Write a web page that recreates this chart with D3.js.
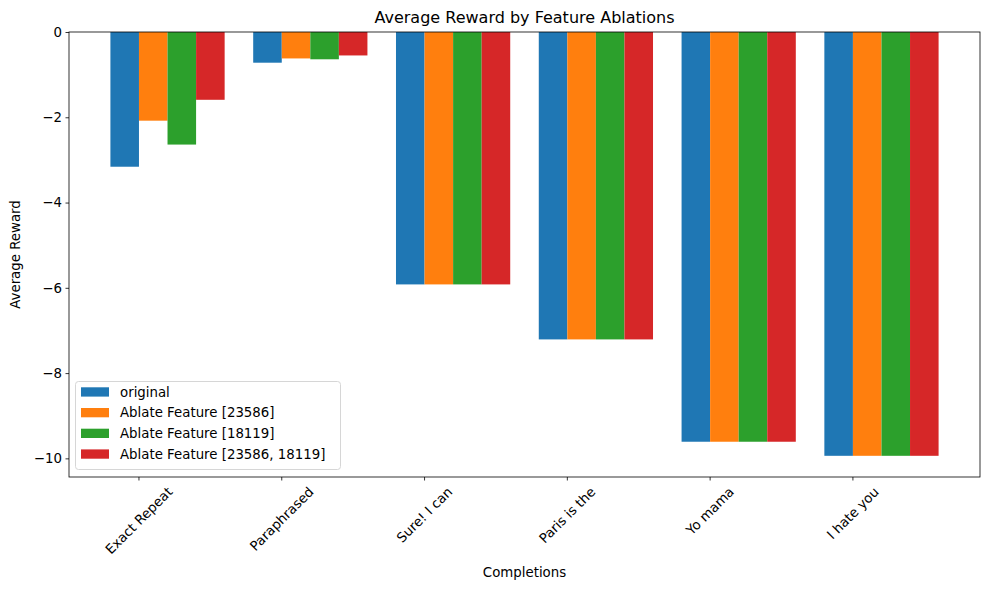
<!DOCTYPE html>
<html>
<head>
<meta charset="utf-8">
<script src="https://cdn.jsdelivr.net/npm/d3@7"></script>
<style>
  body { margin: 0; background: #fff; }
  svg { font-family: 'DejaVu Sans', sans-serif; }
</style>
</head>
<body>
<svg id="main"></svg>
<script>
// chart data
let completions = ['Exact Repeat', 'Paraphrased', 'Sure! I can', 'Paris is the', 'Yo mama', 'I hate you']
let seriesNames = ['original', 'Ablate Feature [23586]', 'Ablate Feature [18119]', 'Ablate Feature [23586, 18119]']
let original = [-3.16, -0.72, -5.92, -7.21, -9.61, -9.94]
let ablate23586 = [-2.08, -0.62, -5.92, -7.21, -9.61, -9.94]
let ablate18119 = [-2.64, -0.64, -5.92, -7.21, -9.61, -9.94]
let ablateBoth = [-1.59, -0.55, -5.92, -7.21, -9.61, -9.94]
let yTicks = [0, -2, -4, -6, -8, -10]
let colors = ['#1f77b4', '#ff7f0e', '#2ca02c', '#d62728']

let series = [original, ablate23586, ablate18119, ablateBoth]

let width = 989
let height = 590
let plotLeft = 69, plotRight = 980, plotTop = 32, plotBottom = 477
let barW = 0.2

let svg = d3.select('#main').attr('width', width).attr('height', height)

let xScale = d3.scaleLinear()
    .domain([-0.1 - 0.29, 5.7 + 0.29])
    .range([plotLeft, plotRight])

let yScale = d3.scaleLinear()
    .domain([-9.94 * 1.05, 0])
    .range([plotBottom, plotTop])

// bars
series.forEach((vals, s) => {
    svg.append('g')
        .selectAll('rect')
        .data(vals)
        .enter()
        .append('rect')
        .attr('x', (d, i) => xScale(i + s * barW - barW / 2))
        .attr('width', xScale(barW) - xScale(0))
        .attr('y', yScale(0))
        .attr('height', d => yScale(d) - yScale(0))
        .attr('fill', colors[s])
})

// y axis
let yAxis = d3.axisLeft(yScale)
    .tickValues(yTicks)
    .tickSize(3.5)
    .tickPadding(3.5)
    .tickFormat(d => d < 0 ? '\u2212' + Math.abs(d) : d)
let yG = svg.append('g')
    .attr('transform', `translate(${plotLeft}, 0)`)
    .call(yAxis)
yG.select('.domain').remove()
yG.selectAll('text').attr('font-size', 13.33).attr('fill', '#000').attr('font-family', 'DejaVu Sans')
yG.selectAll('line').attr('stroke', '#000').attr('stroke-width', 0.8)

// x axis ticks
let tickPos = completions.map((c, i) => i + barW / 2)
let xG = svg.append('g')
xG.selectAll('line')
    .data(tickPos)
    .enter()
    .append('line')
    .attr('x1', d => xScale(d)).attr('x2', d => xScale(d))
    .attr('y1', plotBottom).attr('y2', plotBottom + 3.5)
    .attr('stroke', '#000').attr('stroke-width', 0.8)

let labels = xG.selectAll('text')
    .data(completions)
    .enter()
    .append('text')
    .attr('font-size', 13.33)
    .attr('text-anchor', 'middle')
    .attr('dominant-baseline', 'central')
    .text(d => d)
labels.each(function (d, i) {
    let w = this.getComputedTextLength()
    let h = 15.5
    let bh = (w + h) * Math.SQRT1_2
    d3.select(this).attr('transform', `translate(${xScale(tickPos[i])}, ${plotBottom + 7 + bh / 2}) rotate(-45)`)
})

// frame
svg.append('rect')
    .attr('x', plotLeft).attr('y', plotTop)
    .attr('width', plotRight - plotLeft).attr('height', plotBottom - plotTop)
    .attr('fill', 'none').attr('stroke', '#000').attr('stroke-width', 0.8)

// titles
svg.append('text')
    .attr('x', (plotLeft + plotRight) / 2).attr('y', 23)
    .attr('text-anchor', 'middle').attr('font-size', 16)
    .text('Average Reward by Feature Ablations')
svg.append('text')
    .attr('x', (plotLeft + plotRight) / 2).attr('y', 577)
    .attr('text-anchor', 'middle').attr('font-size', 13.33)
    .text('Completions')
svg.append('text')
    .attr('transform', `translate(20, ${(plotTop + plotBottom) / 2}) rotate(-90)`)
    .attr('text-anchor', 'middle').attr('font-size', 13.33)
    .text('Average Reward')

// legend
let legend = svg.append('g').attr('transform', 'translate(75, 381)')
legend.append('rect')
    .attr('x', 0.5).attr('y', 0.5)
    .attr('width', 265).attr('height', 88)
    .attr('rx', 3)
    .attr('fill', 'rgba(255,255,255,0.8)')
    .attr('stroke', '#d6d6d6').attr('stroke-width', 1)
seriesNames.forEach((name, i) => {
    let cy = 11 + i * 20.7
    legend.append('rect')
        .attr('x', 6).attr('y', cy - 4.7)
        .attr('width', 28).attr('height', 9.3)
        .attr('fill', colors[i])
    legend.append('text')
        .attr('x', 45).attr('y', cy)
        .attr('dy', '0.35em')
        .attr('font-size', 13.33)
        .text(name)
})
</script>
</body>
</html>
